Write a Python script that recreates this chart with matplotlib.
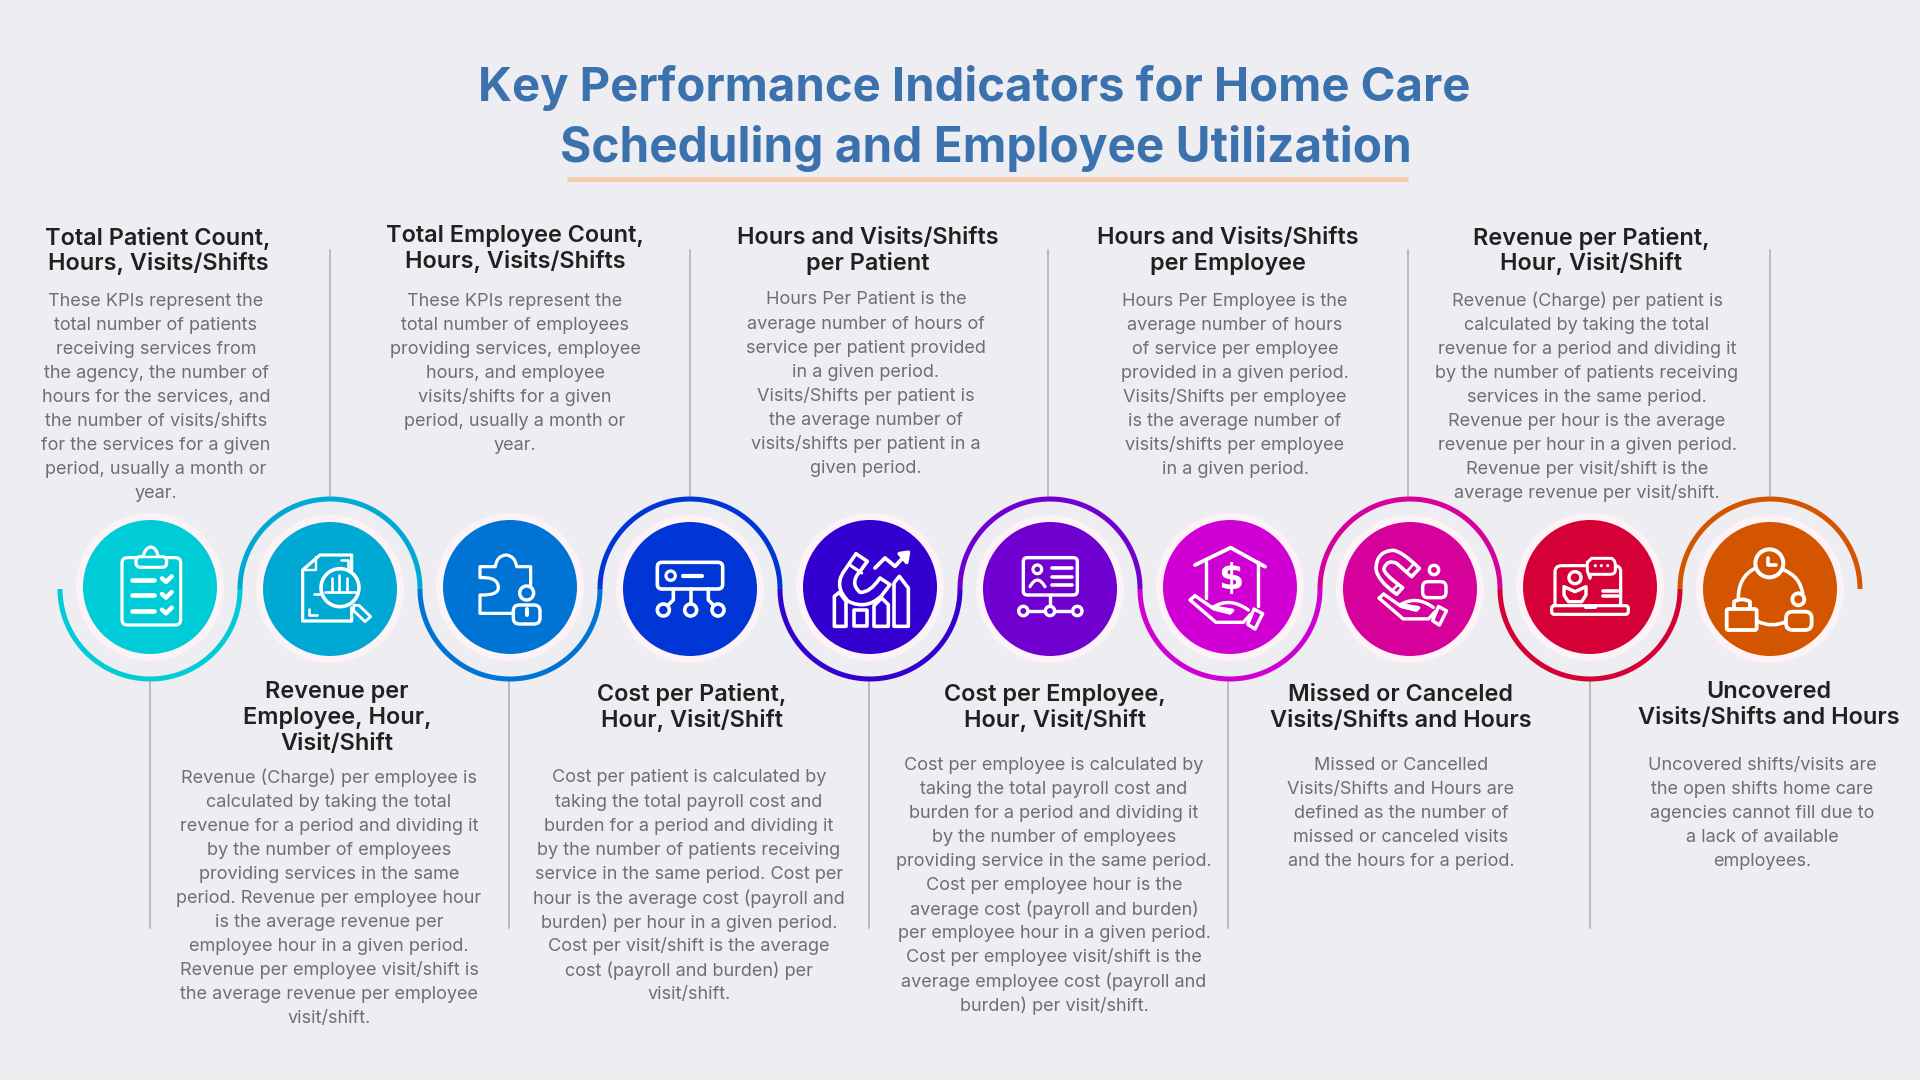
import numpy as np
import matplotlib
matplotlib.use("Agg")
import matplotlib.pyplot as plt
from matplotlib.path import Path
from matplotlib.patches import PathPatch, Circle, FancyBboxPatch

BG = "#EDEDF2"
TITLE_LINES = ["Key Performance Indicators for Home Care", "Scheduling and Employee Utilization"]
COLORS = ["#00CCD8", "#00A9D4", "#0074D5", "#0036D5", "#3300D0",
          "#7000D0", "#D000D4", "#D6009A", "#D50036", "#D45500"]
HEADS = [
    ["Total Patient Count,", "Hours, Visits/Shifts"],
    ["Revenue per", "Employee, Hour,", "Visit/Shift"],
    ["Total Employee Count,", "Hours, Visits/Shifts"],
    ["Cost per Patient,", "Hour, Visit/Shift"],
    ["Hours and Visits/Shifts", "per Patient"],
    ["Cost per Employee,", "Hour, Visit/Shift"],
    ["Hours and Visits/Shifts", "per Employee"],
    ["Missed or Canceled", "Visits/Shifts and Hours"],
    ["Revenue per Patient,", "Hour, Visit/Shift"],
    ["Uncovered", "Visits/Shifts and Hours"],
]
BODIES = [
    ["These KPIs represent the", "total number of patients", "receiving services from", "the agency, the number of",
     "hours for the services, and", "the number of visits/shifts", "for the services for a given",
     "period, usually a month or", "year."],
    ["Revenue (Charge) per employee is", "calculated by taking the total", "revenue for a period and dividing it",
     "by the number of employees", "providing services in the same", "period. Revenue per employee hour",
     "is the average revenue per", "employee hour in a given period.", "Revenue per employee visit/shift is",
     "the average revenue per employee", "visit/shift."],
    ["These KPIs represent the", "total number of employees", "providing services, employee", "hours, and employee",
     "visits/shifts for a given", "period, usually a month or", "year."],
    ["Cost per patient is calculated by", "taking the total payroll cost and", "burden for a period and dividing it",
     "by the number of patients receiving", "service in the same period. Cost per", "hour is the average cost (payroll and",
     "burden) per hour in a given period.", "Cost per visit/shift is the average", "cost (payroll and burden) per",
     "visit/shift."],
    ["Hours Per Patient is the", "average number of hours of", "service per patient provided", "in a given period.",
     "Visits/Shifts per patient is", "the average number of", "visits/shifts per patient in a", "given period."],
    ["Cost per employee is calculated by", "taking the total payroll cost and", "burden for a period and dividing it",
     "by the number of employees", "providing service in the same period.", "Cost per employee hour is the",
     "average cost (payroll and burden)", "per employee hour in a given period.", "Cost per employee visit/shift is the",
     "average employee cost (payroll and", "burden) per visit/shift."],
    ["Hours Per Employee is the", "average number of hours", "of service per employee", "provided in a given period.",
     "Visits/Shifts per employee", "is the average number of", "visits/shifts per employee", "in a given period."],
    ["Missed or Cancelled", "Visits/Shifts and Hours are", "defined as the number of", "missed or canceled visits",
     "and the hours for a period."],
    ["Revenue (Charge) per patient is", "calculated by taking the total", "revenue for a period and dividing it",
     "by the number of patients receiving", "services in the same period.", "Revenue per hour is the average",
     "revenue per hour in a given period.", "Revenue per visit/shift is the", "average revenue per visit/shift."],
    ["Uncovered shifts/visits are", "the open shifts home care", "agencies cannot fill due to", "a lack of available",
     "employees."],
]
# layout (pixels on the 1920x1080 canvas)
CX = [150, 330, 510, 690, 870, 1050, 1230, 1410, 1590, 1770]
CY = [587, 589, 587, 589, 587, 589, 587, 589, 587, 589]
LINE_X = [150, 330, 509, 690, 869, 1048, 1228, 1408, 1590, 1770]
HEAD_X = [158, 337, 515, 692, 868, 1055, 1228, 1401, 1591, 1769]
HEAD_Y = [238, 692, 236, 695, 238, 695, 238, 695, 238, 692]
BODY_X = [156, 329, 515, 689, 866, 1054, 1235, 1401, 1587, 1762]
BODY_Y = [301, 778, 301, 778, 300, 765, 301, 765, 301, 765]

plt.rcParams["font.family"] = ["Inter", "DejaVu Sans"]
fig = plt.figure(figsize=(19.2, 10.8), dpi=100, facecolor=BG)
ax = fig.add_axes([0, 0, 1, 1])
ax.set_xlim(0, 1920); ax.set_ylim(1080, 0); ax.axis("off")

PX = 72 / 100
for ln, x, y, fs in zip(TITLE_LINES, [974, 986], [88, 149], [34.0, 34.4]):
    ax.text(x, y, ln, ha="center", va="center", fontsize=fs, fontweight="bold", color="#3B72AE")
ax.plot([567, 1408], [179, 179], color="#F3CFA9", lw=5 * PX, solid_capstyle="butt")

R = 90
t = np.linspace(0, np.pi, 200)
for i, (cx, cy, col) in enumerate(zip(CX, CY, COLORS)):
    lx = LINE_X[i]
    if i % 2 == 0:
        ax.plot([lx, lx], [680, 928], color="#ABABB0", lw=1.5 * PX, zorder=1)
    else:
        ax.plot([lx, lx], [250, 498], color="#ABABB0", lw=1.5 * PX, zorder=1)
    tt = t if i % 2 == 0 else -t
    ax.plot(cx + R * np.cos(tt), 589 + R * np.sin(tt), color=col, lw=5 * PX, solid_capstyle="butt", zorder=2)
    ax.add_patch(Circle((cx, cy), 74, fc="#FDF3F7", ec="none", zorder=3))
    ax.add_patch(Circle((cx, cy), 67, fc=col, ec="none", zorder=4))
    for k, ln in enumerate(HEADS[i]):
        ax.text(HEAD_X[i], HEAD_Y[i] + k * 25.8, ln, ha="center", va="center", fontsize=16.9,
                fontweight="semibold", color="#231F20", zorder=6)
    for k, ln in enumerate(BODIES[i]):
        ax.text(BODY_X[i], BODY_Y[i] + k * 24.05, ln, ha="center", va="center", fontsize=13.0,
                fontweight="normal", color="#6E6E73", zorder=6)


class Icon:
    def __init__(self, cx, cy, ox, oy, fill):
        self.cx, self.cy, self.ox, self.oy, self.fill = cx, cy, ox, oy, fill

    def p(self, x, y):
        return (self.cx + (x - self.ox) / 3, self.cy + (y - self.oy) / 3)

    def path(self, items, lw=3.2, close=False, fc="none"):
        verts, codes = [], []
        for n, it in enumerate(items):
            if len(it) == 2:
                verts.append(self.p(*it)); codes.append(Path.MOVETO if n == 0 else Path.LINETO)
            else:
                verts += [self.p(it[0], it[1]), self.p(it[2], it[3])]
                codes += [Path.CURVE3, Path.CURVE3]
        if close:
            verts.append(verts[0]); codes.append(Path.CLOSEPOLY)
        ax.add_patch(PathPatch(Path(verts, codes), fc=fc, ec="white", lw=lw * PX,
                               capstyle="round", joinstyle="round", zorder=5))

    def circle(self, x, y, r, lw=3.2, fc=None):
        ax.add_patch(Circle(self.p(x, y), r / 3, fc=self.fill if fc is None else fc, ec="white", lw=lw * PX, zorder=5))

    def rrect(self, x0, y0, x1, y1, r=12, lw=3.2, fc=None):
        a, b = self.p(x0, y0), self.p(x1, y1)
        ax.add_patch(FancyBboxPatch((a[0] + r / 3, a[1] + r / 3), b[0] - a[0] - 2 * r / 3, b[1] - a[1] - 2 * r / 3,
                                    boxstyle=f"round,pad={r / 3}", fc=self.fill if fc is None else fc,
                                    ec="white", lw=lw * PX, zorder=5))

    def hand(self, dx=0, dy=0, s=1.0):
        f = lambda x, y: (dx + s * x, dy + s * y)
        self.path([f(45, 182), f(30, 195), f(108, 262), f(190, 262), f(212, 238)], lw=3.4)
        self.path([f(45, 182), f(102, 222), f(150, 234), f(158, 226), f(100, 216)], lw=3.4)
        self.path([f(100, 216), (dx + s * 150, dy + s * 185, dx + s * 205, dy + s * 225)], lw=3.4)
        self.path([f(222, 222), f(248, 236), f(225, 282), f(203, 268)], lw=3.4, close=True, fc=self.fill)


def I(i, ox, oy):
    return Icon(CX[i], CY[i], ox, oy, COLORS[i])


# 1 clipboard
a = I(0, 150, 156)
a.rrect(66, 68, 242, 270, 16)
a.rrect(108, 65, 200, 97, 14)
a.path([(130, 62), (136, 38, 152, 36), (168, 36, 174, 62)], fc=COLORS[0])
for dy in (0, 47, 94):
    a.path([(95, 134 + dy), (162, 134 + dy)], lw=4.6)
    a.path([(186, 130 + dy), (198, 141 + dy), (215, 124 + dy)], lw=4.4)

# 2 document with magnifier
a = I(1, 690, 162)
a.path([(755, 105), (755, 60), (660, 60), (608, 105), (608, 258), (755, 258), (755, 218)])
a.path([(648, 66), (648, 105), (608, 105)], lw=2.4)
a.circle(720, 158, 57, lw=3.6)
for x, top in ((695, 130), (717, 120), (741, 130)):
    a.path([(x, top), (x, 170)], lw=2.6)
a.path([(675, 172), (768, 172)], lw=2.6)
a.path([(642, 177), (665, 177)], lw=2.6)
a.path([(722, 75), (745, 75), (745, 98)], lw=2.6)
a.path([(628, 222), (628, 240), (650, 240)], lw=2.6)
a.path([(762, 210), (778, 212), (812, 245), (795, 260), (760, 226)], close=True, fc=COLORS[1], lw=2.8)

# 3 puzzle with person
a = I(2, 1230, 156)
a.path([(1292, 155), (1292, 95), (1250, 95), (1245, 62, 1218, 60), (1190, 62, 1186, 95), (1140, 95), (1140, 128),
        (1195, 125, 1195, 158), (1195, 182, 1140, 180), (1140, 235), (1240, 235)])
a.circle(1280, 174, 21, lw=3.4)
a.rrect(1240, 210, 1320, 267, 18, lw=3.4)
a.path([(1280, 222), (1280, 240)], lw=4)

# 4 network device
a = I(3, 150, 162)
a.rrect(52, 82, 248, 162, 14, lw=3.6)
a.circle(92, 122, 14, lw=3.2)
a.path([(130, 122), (185, 122)], lw=4.2)
a.path([(100, 162), (100, 195), (82, 212)], lw=3.6)
a.path([(152, 162), (152, 208)], lw=3.6)
a.path([(205, 162), (205, 195), (222, 212)], lw=3.6)
for x in (70, 152, 234):
    a.circle(x, 225, 18, lw=3.6)

# 5 magnet + bars + arrow
a = I(4, 690, 162)
a.path([(583, 280), (583, 190), (598, 178), (618, 205), (618, 280)], close=True, lw=3.6)
a.path([(642, 280), (642, 232), (682, 232), (682, 280)], close=True, lw=3.6)
a.path([(702, 280), (702, 218), (725, 195), (745, 215), (745, 280)], close=True, lw=3.6)
a.path([(762, 280), (762, 150), (778, 130), (805, 165), (805, 280)], close=True, lw=3.6)
a.path([(648, 62), (682, 85), (660, 115), (628, 150, 660, 178), (690, 180, 720, 135), (750, 155), (725, 188),
        (680, 232, 625, 205), (580, 160, 612, 115)], close=True, fc=COLORS[4], lw=3.6)
a.path([(628, 95), (665, 120)], lw=3.2)
a.path([(705, 105), (735, 75), (765, 100), (800, 62)], lw=3.8)
a.path([(778, 62), (805, 58), (800, 88)], lw=3.8, close=True, fc="white")

# 6 ID board
a = I(5, 1230, 162)
a.rrect(1150, 68, 1312, 180, 12, lw=3.4)
a.circle(1192, 103, 13, lw=3.2)
a.path([(1170, 155), (1192, 115, 1215, 155)], lw=3.2)
for y in (100, 125, 150):
    a.path([(1237, y), (1295, y)], lw=3.6)
a.path([(1230, 180), (1230, 228)], lw=3.4)
a.path([(1150, 228), (1312, 228)], lw=3.4)
for x in (1150, 1230, 1312):
    a.circle(x, 228, 14, lw=3.4)

# 7 hand with house
a = I(6, 150, 156)
a.path([(45, 90), (152, 38), (255, 95)], lw=3.8)
a.path([(78, 82), (78, 190)], lw=3.4)
a.path([(233, 82), (233, 212)], lw=3.4)
ax.text(*a.p(152, 133), "$", ha="center", va="center", fontsize=26, fontweight="bold", color="white", zorder=6,
        family="DejaVu Sans")
a.hand()

# 8 hand with magnet and person
a = I(7, 690, 162)
a.path([(718, 100), (695, 125), (650, 85), (622, 72, 612, 100), (608, 115, 668, 158), (650, 178),
        (590, 135, 588, 100), (590, 48, 640, 46), (665, 48, 718, 100)], close=True, fc=COLORS[7], lw=3.6)
a.path([(680, 110), (698, 90)], lw=2.6)
a.path([(655, 148), (638, 165)], lw=2.6)
a.circle(762, 105, 14, lw=3.4)
a.rrect(728, 140, 798, 188, 16, lw=3.4)
a.hand(569, 8, 0.93)

# 9 laptop with person and speech bubble
a = I(8, 1230, 156)
a.path([(1125, 210), (1125, 108), (1127, 92, 1145, 92), (1222, 92)], lw=3.2)
a.path([(1305, 92), (1322, 94, 1322, 108), (1322, 210)], lw=3.2)
a.rrect(1115, 212, 1345, 238, 8, lw=3.2)
a.path([(1215, 216), (1245, 216)], lw=3)
a.path([(1235, 70), (1295, 70), (1306, 76, 1306, 90), (1306, 105), (1306, 118, 1290, 118), (1232, 118), (1230, 130),
        (1222, 108), (1222, 82)], close=True, fc=COLORS[8], lw=3)
for x in (1246, 1264, 1283):
    a.circle(x, 92, 4.5, lw=0.1, fc="white")
a.circle(1185, 128, 18, lw=3.4)
a.path([(1152, 155), (1185, 170), (1218, 155), (1218, 180), (1205, 200), (1165, 200), (1152, 180)], close=True, lw=3.4)
a.path([(1268, 168), (1315, 168)], lw=3.6)
a.path([(1268, 183), (1315, 183)], lw=3.6)

# 10 clock, lock, person
a = I(9, 180, 162)
a.path([(135, 100), (85, 125, 85, 190)], lw=3.6)
a.path([(222, 105), (270, 125, 278, 175)], lw=3.6)
a.path([(140, 258), (185, 280, 228, 260)], lw=3.6)
a.circle(178, 85, 42, lw=4)
a.path([(175, 68), (175, 90), (197, 90)], lw=3.6)
a.circle(265, 193, 18, lw=3.8)
a.path([(72, 222), (72, 200), (95, 186, 120, 200), (120, 222)], lw=3.8)
a.rrect(50, 222, 140, 285, 6, lw=3.8)
a.rrect(228, 230, 305, 285, 20, lw=3.8)

fig.savefig("out.png", dpi=100, facecolor=BG)
